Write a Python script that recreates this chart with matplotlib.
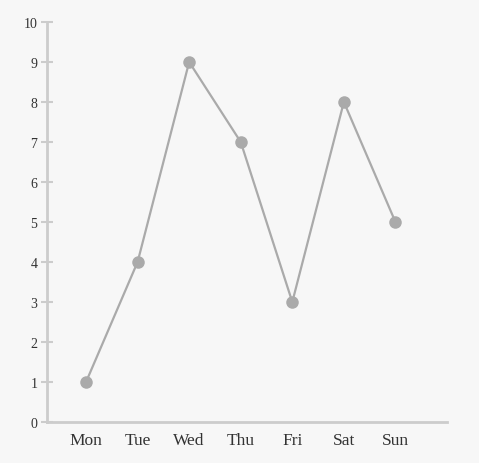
import matplotlib.pyplot as plt

days = ['Mon', 'Tue', 'Wed', 'Thu', 'Fri', 'Sat', 'Sun']
values = [1, 4, 9, 7, 3, 8, 5]

W, H = 479, 464
fig = plt.figure(figsize=(W / 100, H / 100), dpi=100)
fig.patch.set_facecolor('#f7f7f7')

# axes box in pixels: left 47, right 447, top 23, bottom 423
ax = fig.add_axes([47 / W, 1 - 423 / H, 400 / W, 400 / H])
ax.set_facecolor('#f7f7f7')

x = list(range(len(days)))
ax.plot(x, values, color='#aaaaaa', lw=1.6, marker='o', ms=8,
        markerfacecolor='#aaaaaa', markeredgecolor='#aaaaaa', clip_on=False)

ax.set_xlim(-0.757, 7.0)
ax.set_ylim(0, 10)
ax.set_xticks(x)
ax.set_xticklabels(days)
ax.set_yticks(range(11))

for s in ['top', 'right']:
    ax.spines[s].set_visible(False)
for s in ['left', 'bottom']:
    ax.spines[s].set_color('#cccccc')
    ax.spines[s].set_linewidth(2)

ax.tick_params(axis='x', length=0, pad=7, labelsize=12.5, labelcolor='#333333')
ax.tick_params(axis='y', direction='inout', length=8, width=1.5, color='#cccccc',
               pad=3, labelsize=10, labelcolor='#333333')
for lab in ax.get_xticklabels() + ax.get_yticklabels():
    lab.set_family(['Liberation Serif', 'DejaVu Serif'])

fig.savefig('out.png', dpi=100, facecolor=fig.get_facecolor())
